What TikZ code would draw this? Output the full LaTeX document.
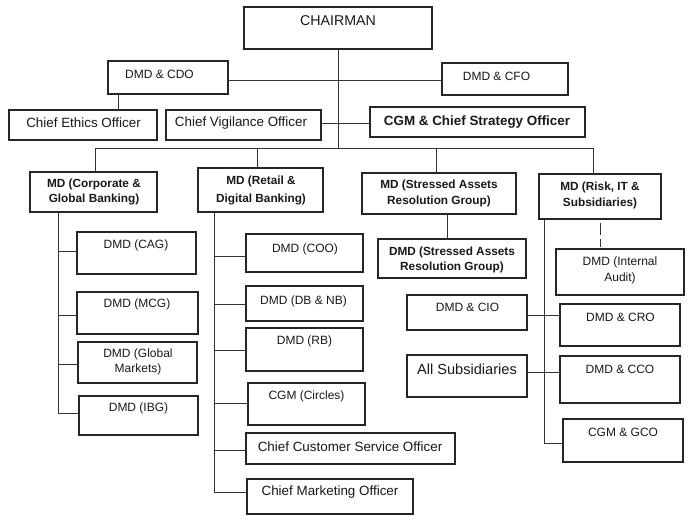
\documentclass[tikz,border=0pt]{standalone}
\usepackage{fontspec}
\setmainfont{Liberation Sans}
\usetikzlibrary{calc}
\newcommand\orgbox[5]{\node[box, minimum width={(#4-#2)*1pt}, minimum height={(#5-#3)*1pt}] (#1) at ({(#2+#4)/2},{(#3+#5)/2}) {};}
\begin{document}
\begin{tikzpicture}[x=1pt,y=-1pt,
  box/.style={draw=black!85, line width=1.1pt, inner sep=0pt, outer sep=0pt},
  conn/.style={draw=black!80, line width=1pt},
  txt/.style={inner sep=0pt, align=center, text=black!90},
  big/.style={font=\fontsize{13.4}{16}\selectfont},
  huge/.style={font=\fontsize{14.2}{17}\selectfont},
  sm/.style={font=\fontsize{12}{15}\selectfont},
  bsm/.style={font=\fontsize{11.8}{15}\selectfont\bfseries},
  bbig/.style={font=\fontsize{13.4}{16}\selectfont\bfseries}]
\fill[white] (0,0) rectangle (692,520);
\useasboundingbox (0,0) rectangle (692,520);
% boxes
\orgbox{chair}{244}{7}{432}{49}
\orgbox{cdo}{108}{61}{228}{94}
\orgbox{cfo}{442}{63}{568}{95}
\orgbox{ethics}{9}{110}{157}{140}
\orgbox{vig}{166}{110}{321}{140}
\orgbox{cgm}{370}{107}{585}{137}
\orgbox{corp}{30}{172}{157}{212}
\orgbox{retail}{198}{168}{323}{212}
\orgbox{stressed}{362}{173}{516}{214}
\orgbox{risk}{539}{174}{661}{219}
\orgbox{cag}{77}{232}{196}{274}
\orgbox{mcg}{77}{292}{198}{334}
\orgbox{gm}{78}{342}{197}{383}
\orgbox{ibg}{79}{396}{198}{435}
\orgbox{coo}{246}{234}{363}{272}
\orgbox{dbnb}{246}{286}{363}{321}
\orgbox{rb}{246}{328}{363}{371}
\orgbox{circ}{248}{383}{365}{425}
\orgbox{ccso}{246}{433}{455}{464}
\orgbox{cmo}{247}{479}{413}{514}
\orgbox{dstr}{378}{239}{526}{278}
\orgbox{ia}{556}{249}{684}{295}
\orgbox{cio}{407}{295}{527}{330}
\orgbox{cro}{560}{304}{680}{346}
\orgbox{subs}{407}{355}{527}{397}
\orgbox{cco}{560}{356}{680}{403}
\orgbox{gco}{563}{419}{683}{462}
% texts
\node[txt,huge] (chair-t) at (338,21) {CHAIRMAN};
\node[txt,sm] (cdo-t) at (159.5,74) {DMD \& CDO};
\node[txt,sm] (cfo-t) at (496.5,76) {DMD \& CFO};
\node[txt,big] (ethics-t) at (83.5,123) {Chief Ethics Officer};
\node[txt,big] (vig-t) at (241,123) {Chief Vigilance Officer};
\node[txt,bbig] (cgm-t) at (477,122) {CGM \& Chief Strategy Officer};
\node[txt,bsm] (corp-t) at (94,191.5) {MD (Corporate \&\\Global Banking)};
\node[txt,bsm] (retail-t) at (261,190) {MD (Retail \&\\[3pt]Digital Banking)};
\node[txt,bsm] (stressed-t) at (439,193) {MD (Stressed Assets\\[1pt]Resolution Group)};
\node[txt,bsm] (risk-t) at (600,195) {MD (Risk, IT \&\\[1pt]Subsidiaries)};
\node[txt,bsm] (dstr-t) at (452,259.5) {DMD (Stressed Assets\\Resolution Group)};
\node[txt,sm] (cag-t) at (136,245) {DMD (CAG)};
\node[txt,sm] (mcg-t) at (137,304) {DMD (MCG)};
\node[txt,sm] (gm-t) at (138,361.5) {DMD (Global\\Markets)};
\node[txt,sm] (ibg-t) at (138.5,408) {DMD (IBG)};
\node[txt,sm] (coo-t) at (305,249) {DMD (COO)};
\node[txt,sm] (dbnb-t) at (303.5,301) {DMD (DB \& NB)};
\node[txt,sm] (rb-t) at (304.5,341) {DMD (RB)};
\node[txt,sm] (circ-t) at (306.5,396) {CGM (Circles)};
\node[txt,big] (ccso-t) at (350,447) {Chief Customer Service Officer};
\node[txt,big] (cmo-t) at (330,492) {Chief Marketing Officer};
\node[txt,sm] (ia-t) at (620,270) {DMD (Internal\\[1pt]Audit)};
\node[txt,sm] (cio-t) at (467.5,307) {DMD \& CIO};
\node[txt,sm] (cro-t) at (620.5,317) {DMD \& CRO};
\node[txt,font=\fontsize{14.6}{17}\selectfont] (subs-t) at (467,369) {All Subsidiaries};
\node[txt,sm] (cco-t) at (620,369) {DMD \& CCO};
\node[txt,sm] (gco-t) at (623,432) {CGM \& GCO};
% coordinates
\coordinate (b1) at (95,148);
\coordinate (b2) at (257.5,148);
\coordinate (b3) at (436,148);
\coordinate (b4) at (593.5,148);
\coordinate (cdoD) at (118,94);
\coordinate (cs) at (58,212);
\coordinate (rs) at (214,212);
\coordinate (ss) at (447,214);
\coordinate (ks) at (544,219);
\coordinate (y315) at (0,315);
\coordinate (y372) at (0,372);
\coordinate (y80) at (0,80);
\coordinate (y123) at (0,123);
\coordinate (da) at (600,223);
\coordinate (db) at (600,247);
% connectors
\draw[conn] (chair.south) -- (chair.south |- b1);
\draw[conn] (cdo.east |- y80) -- (cfo.west |- y80);
\draw[conn] (vig.east |- y123) -- (cgm.west |- y123);
\draw[conn] (cdoD) -- (cdoD |- ethics.north);
\draw[conn] (b1) -- (b4);
\draw[conn] (b1) -- (b1 |- corp.north);
\draw[conn] (b2) -- (b2 |- retail.north);
\draw[conn] (b3) -- (b3 |- stressed.north);
\draw[conn] (b4) -- (b4 |- risk.north);
% corporate spine
\draw[conn] (cs) -- (cs |- 0,413);
\draw[conn] (cs |- 0,251) -- (cag.west |- 0,251);
\draw[conn] (cs |- 0,315) -- (mcg.west |- 0,315);
\draw[conn] (cs |- 0,364) -- (gm.west |- 0,364);
\draw[conn] (cs |- 0,413) -- (ibg.west |- 0,413);
% retail spine
\draw[conn] (rs) -- (rs |- 0,492);
\draw[conn] (rs |- 0,256) -- (coo.west |- 0,256);
\draw[conn] (rs |- 0,304) -- (dbnb.west |- 0,304);
\draw[conn] (rs |- 0,350) -- (rb.west |- 0,350);
\draw[conn] (rs |- 0,403) -- (circ.west |- 0,403);
\draw[conn] (rs |- 0,450) -- (ccso.west |- 0,450);
\draw[conn] (rs |- 0,492) -- (cmo.west |- 0,492);
% stressed
\draw[conn] (ss) -- (ss |- dstr.north);
% risk spine
\draw[conn] (ks) -- (ks |- 0,443);
\draw[conn] (ks |- 0,443) -- (gco.west |- 0,443);
\draw[conn] (cio.east |- y315) -- (cro.west |- y315);
\draw[conn] (subs.east |- y372) -- (cco.west |- y372);
\draw[conn, dash pattern=on 12pt off 4pt] (da) -- (db);
\end{tikzpicture}
\end{document}
